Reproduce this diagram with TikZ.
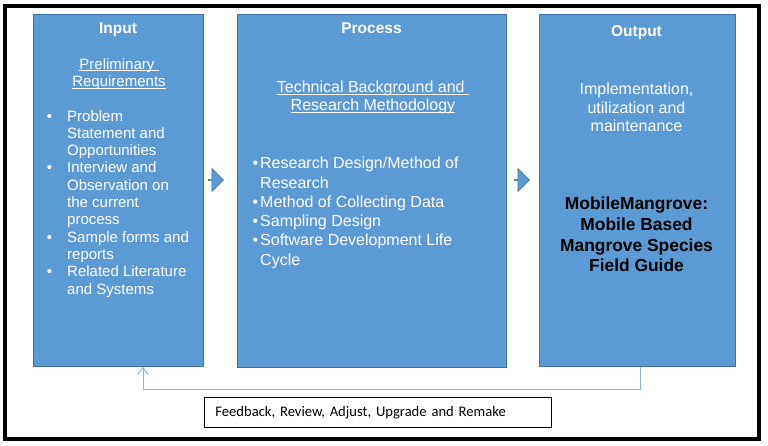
\documentclass[tikz,border=0pt]{standalone}
\usepackage{fontspec}
\setmainfont{Liberation Sans}
\newfontfamily\fbfont{Carlito}
\usetikzlibrary{arrows.meta, shapes.arrows}

\definecolor{stageblue}{HTML}{5B9BD5}
\definecolor{stageline}{HTML}{41719C}
\definecolor{backblue}{HTML}{8FB4DC}

\newsavebox\ulsave
\newcommand{\ulbox}[1]{\sbox\ulsave{#1}\rlap{\rule[-2pt]{\wd\ulsave}{0.8pt}}\usebox\ulsave}

\begin{document}
\begin{tikzpicture}[x=1pt, y=-1pt,
  stage/.style={draw=stageline, fill=stageblue, line width=0.9pt, anchor=north west, inner sep=0pt},
  head/.style={text=white, anchor=north, inner sep=0pt, font=\bfseries\fontsize{15.5}{18}\selectfont},
  body/.style={text=white, inner sep=0pt},
  flowarrow/.style={single arrow, draw=stageline, fill=stageblue, line width=0.6pt, inner sep=0pt,
    minimum height=15pt, minimum width=23pt, single arrow head extend=5pt, single arrow head indent=0pt},
  backline/.style={draw=backblue, line width=1pt},
  fbbox/.style={draw=black, line width=0.8pt, anchor=north west, text width=325pt, align=left,
    inner xsep=11pt, minimum height=30pt, font=\fbfont\fontsize{14.6}{17}\selectfont}]

\useasboundingbox (0,0) rectangle (768,446);
\draw[line width=3.5pt] (5,6) rectangle (759,439); %frame

% the three stages
\node[stage, minimum width=170pt, minimum height=352pt] (input) at (33,14) {};
\node[stage, minimum width=269pt, minimum height=353pt] (process) at (237,14) {};
\node[stage, minimum width=196pt, minimum height=352pt] (output) at (539,14) {};

\node[flowarrow] (arrowA) at (215.5,180) {};
\node[flowarrow] (arrowB) at (521.5,180) {};

% input
\node[head] (inhead) at (118,23) {Input};
\node[body, anchor=north, align=center, font=\fontsize{15}{17.3}\selectfont] (inreq) at (119,58)
  {\ulbox{Preliminary\ }\\\ulbox{Requirements}};
\node[body, anchor=north west, align=left, font=\fontsize{15}{17.3}\selectfont] (inlist) at (67,110)
  {\llap{\textbullet\hspace{15pt}}Problem\\Statement and\\Opportunities\\
   \llap{\textbullet\hspace{15pt}}Interview and\\Observation on\\the current\\process\\
   \llap{\textbullet\hspace{15pt}}Sample forms and\\reports\\
   \llap{\textbullet\hspace{15pt}}Related Literature\\and Systems};

% process
\node[head] (prochead) at (371.5,23) {Process};
\node[body, anchor=north, align=center, font=\fontsize{16}{18}\selectfont] (procref) at (373,81)
  {\ulbox{Technical Background and\ }\\\ulbox{Research Methodology}};
\node[body, anchor=north west, align=left, font=\fontsize{16}{19.3}\selectfont] (proclist) at (260,157)
  {\llap{\textbullet\hspace{2pt}}Research Design/Method of\\Research\\
   \llap{\textbullet\hspace{2pt}}Method of Collecting Data\\
   \llap{\textbullet\hspace{2pt}}Sampling Design\\
   \llap{\textbullet\hspace{2pt}}Software Development Life\\Cycle};

% output
\node[head] (outhead) at (636.5,25.5) {Output};
\node[body, anchor=north, align=center, font=\fontsize{16}{18.6}\selectfont] (outuse) at (636.5,83)
  {Implementation,\\utilization and\\maintenance};
\node[body, text=black, anchor=north, align=center, font=\bfseries\fontsize{17.4}{20.6}\selectfont] (outapp) at (636.5,197)
  {MobileMangrove:\\Mobile Based\\Mangrove Species\\Field Guide};

% feedback loop
\coordinate (backR) at (640,389);
\coordinate (backL) at (143,389);
\draw[backline, -{Straight Barb[length=7pt, width=11pt]}] (output.south -| backR) -- (backR) -- (backL) -- (input.south -| backL);
\node[fbbox] (feedback) at (204,397) {Feedback, Review, Adjust, Upgrade and Remake};

\end{tikzpicture}
\end{document}
